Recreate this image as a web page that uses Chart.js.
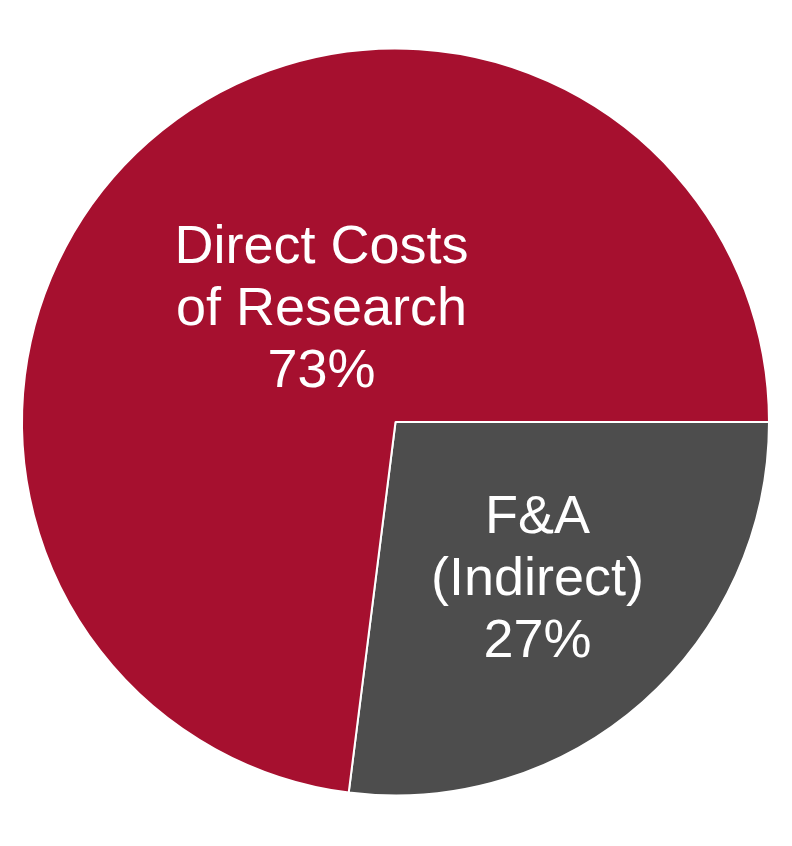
<!DOCTYPE html>
<html>
<head>
<meta charset="utf-8">
<script src="https://cdn.jsdelivr.net/npm/chart.js@4.4.1/dist/chart.umd.min.js"></script>
<style>
  html, body { margin: 0; padding: 0; background: #ffffff; }
  #wrap { width: 792px; height: 846px; }
</style>
</head>
<body>
<div id="wrap"><canvas id="myChart" width="792" height="846"></canvas></div>
<script>
// data
const categories = [["F&A", "(Indirect)"], ["Direct Costs", "of Research"]];
const shares = [27, 73];
const sliceColors = ["#4d4d4d", "#a6102f"];

// where each label sits, as a fraction of the radius from the pie centre
const labelSpots = [[0.38, 0.463], [-0.198, -0.259]];

const sliceLabels = {
    id: "sliceLabels",
    afterDatasetsDraw(chart) {
        const ctx = chart.ctx;
        const arcs = chart.getDatasetMeta(0).data;
        ctx.save();
        ctx.fillStyle = "#ffffff";
        ctx.font = "54px 'Liberation Sans', Arial, sans-serif";
        ctx.textAlign = "center";
        ctx.textBaseline = "alphabetic";
        arcs.forEach((arc, i) => {
            const r = arc.outerRadius;
            const x = arc.x + labelSpots[i][0] * r;
            const y = arc.y + labelSpots[i][1] * r;
            const lines = categories[i].concat([shares[i] + "%"]);
            const lh = 62;
            lines.forEach((t, j) => {
                ctx.fillText(t, x, y + (j - 1) * lh);
            });
        });
        ctx.restore();
    }
};

const myChartRef = document.getElementById("myChart").getContext("2d");
new Chart(myChartRef, {
    type: "pie",
    data: {
        labels: categories,
        datasets: [
            {
                data: shares,
                backgroundColor: sliceColors,
                borderColor: "#ffffff",
                borderWidth: 2
            }
        ]
    },
    options: {
        responsive: false,
        animation: false,
        rotation: 90,
        layout: { padding: { left: 21, right: 22, top: 47, bottom: 49 } },
        plugins: {
            legend: { display: false },
            tooltip: { enabled: false }
        }
    },
    plugins: [sliceLabels]
});
</script>
</body>
</html>
